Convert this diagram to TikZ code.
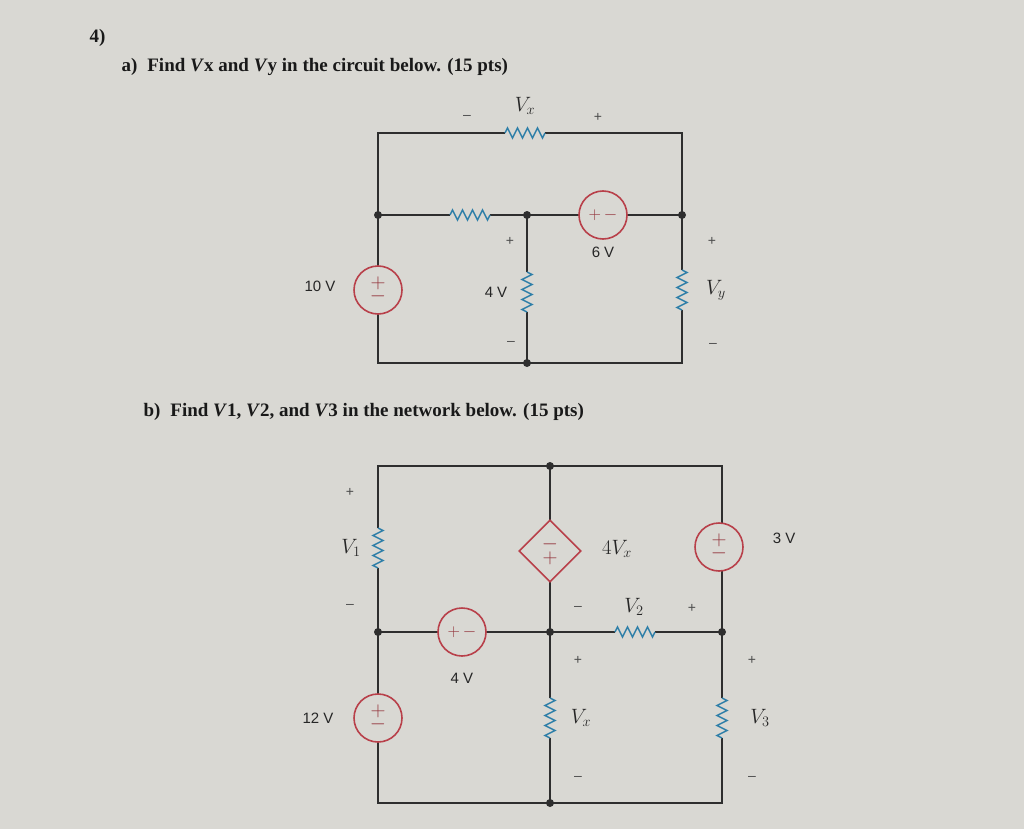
\documentclass[tikz,border=0pt]{standalone}
\usepackage{fontspec}
\setsansfont{Liberation Sans}
\setmainfont{Liberation Serif}
\usetikzlibrary{decorations.pathmorphing,shapes.geometric}
\definecolor{bg}{HTML}{D9D8D3}
\definecolor{wirec}{HTML}{2E2E2E}
\definecolor{resc}{HTML}{2F7FA8}
\definecolor{srcc}{HTML}{B8404A}
\newcommand{\vpm}[2]{\shortstack{$#1$\\[-3pt]$#2$}}
\tikzset{
 wire/.style={wirec,line width=1.6pt},
 resist/.style={resc,line width=1.5pt,decorate,decoration={zigzag,segment length=10,amplitude=5}},
 src/.style={circle,draw=srcc,line width=1.6pt,fill=bg,minimum size=48,inner sep=0,font=\sffamily\fontsize{22}{22}\selectfont,text=srcc!80!black},
 hsrc/.style={src,font=\sffamily\fontsize{18}{18}\selectfont},
 dsrc/.style={diamond,draw=srcc,line width=1.6pt,fill=bg,minimum size=62,inner sep=0,font=\sffamily\fontsize{22}{22}\selectfont,text=srcc!80!black},
 dot/.style={circle,fill=wirec,inner sep=0,minimum size=8},
 lbl/.style={font=\sffamily\fontsize{15}{15}\selectfont,text=black!85},
 sgn/.style={font=\sffamily\fontsize{14}{14}\selectfont,text=black!70},
 vl/.style={font=\fontsize{22}{22}\selectfont\itshape,text=black!85},
 txt/.style={font=\fontsize{19}{19}\selectfont\bfseries,text=black!90,anchor=west}
}
\begin{document}
\begin{tikzpicture}[x=1pt,y=-1pt]
\fill[bg] (0,0) rectangle (1024,829);
\useasboundingbox (0,0) rectangle (1024,829);
\node[txt] (t0) at (86,38) {4)};
\node[txt] (t1) at (118,67) {a)\; Find \textit{V}x and \textit{V}y in the circuit below. (15 pts)};
\node[txt] (t2) at (140,412) {b)\; Find \textit{V}1, \textit{V}2, and \textit{V}3 in the network below. (15 pts)};
% circuit a
\coordinate (aTL) at (378,133); \coordinate (aTR) at (682,133);
\coordinate (aML) at (378,215); \coordinate (aMM) at (527,215); \coordinate (aMR) at (682,215);
\coordinate (aBL) at (378,363); \coordinate (aBM) at (527,363); \coordinate (aBR) at (682,363);
\coordinate (r1a) at (505,133); \coordinate (r1b) at (545,133);
\coordinate (r2a) at (450,215); \coordinate (r2b) at (490,215);
\coordinate (r3a) at (527,272); \coordinate (r3b) at (527,312);
\coordinate (r4a) at (682,270); \coordinate (r4b) at (682,310);
\draw[wire] (aML)--(aTL)--(r1a) (r1b)--(aTR)--(aMR)--(r4a) (r4b)--(aBR)--(aBL)--(aML)--(r2a) (r2b)--(aMR);
\draw[wire] (aMM)--(r3a) (r3b)--(aBM);
\draw[resist] (r1a)--(r1b); \draw[resist] (r2a)--(r2b);
\draw[resist] (r3a)--(r3b); \draw[resist] (r4a)--(r4b);
\node[src] (s10) at (378,290) {\vpm{+}{-}};
\node[hsrc] (s6) at (603,215) {$+\,-$};
\foreach \p/\n in {aML/d1,aMM/d2,aMR/d3,aBM/d4} \node[dot] (\n) at (\p) {};
\node[sgn] (a1) at (467,117) {--}; \node[vl] (a2) at (525,106) {$V_x$}; \node[sgn] (a3) at (598,117) {+};
\node[sgn] (a4) at (510,241) {+}; \node[lbl] (a5) at (496,292) {4 V}; \node[sgn] (a6) at (511,343) {--};
\node[lbl] (a7) at (603,252) {6 V};
\node[sgn] (a8) at (712,241) {+}; \node[vl] (a9) at (716,290) {$V_y$}; \node[sgn] (a10) at (713,345) {--};
\node[lbl] (a11) at (320,286) {10 V};
% circuit b
\coordinate (bTL) at (378,466); \coordinate (bTM) at (550,466); \coordinate (bTR) at (722,466);
\coordinate (bML) at (378,632); \coordinate (bMM) at (550,632); \coordinate (bMR) at (722,632);
\coordinate (bBL) at (378,803); \coordinate (bBM) at (550,803); \coordinate (bBR) at (722,803);
\coordinate (q1a) at (378,528); \coordinate (q1b) at (378,568);
\coordinate (q2a) at (615,632); \coordinate (q2b) at (655,632);
\coordinate (q3a) at (550,698); \coordinate (q3b) at (550,738);
\coordinate (q4a) at (722,698); \coordinate (q4b) at (722,738);
\draw[wire] (q1a)--(bTL)--(bTR)--(bMR)--(q4a) (q4b)--(bBR)--(bBL)--(q1b);
\draw[wire] (bTM)--(q3a) (q3b)--(bBM) (bML)--(q2a) (q2b)--(bMR);
\draw[resist] (q1a)--(q1b); \draw[resist] (q2a)--(q2b);
\draw[resist] (q3a)--(q3b); \draw[resist] (q4a)--(q4b);
\node[src] (s12) at (378,718) {\vpm{+}{-}};
\node[src] (s3) at (719,547) {\vpm{+}{-}};
\node[hsrc] (s4) at (462,632) {$+\,-$};
\node[dsrc] (sd) at (550,551) {\vpm{-}{+}};
\foreach \p/\n in {bTM/e1,bML/e2,bMM/e3,bMR/e4,bBM/e5} \node[dot] (\n) at (\p) {};
\node[sgn] (b1) at (350,492) {+}; \node[vl] (b2) at (351,548) {$V_1$}; \node[sgn] (b3) at (350,606) {--};
\node[lbl] (b4) at (318,718) {12 V}; \node[lbl] (b5) at (462,678) {4 V};
\node[vl] (b6) at (617,549) {$4V_x$}; \node[lbl] (b7) at (784,538) {3 V};
\node[sgn] (b8) at (578,608) {--}; \node[vl] (b9) at (634,607) {$V_2$}; \node[sgn] (b10) at (692,608) {+};
\node[sgn] (b11) at (578,660) {+}; \node[vl] (b12) at (581,718) {$V_x$}; \node[sgn] (b13) at (578,778) {--};
\node[sgn] (b14) at (752,660) {+}; \node[vl] (b15) at (760,718) {$V_3$}; \node[sgn] (b16) at (752,778) {--};
\end{tikzpicture}
\end{document}
